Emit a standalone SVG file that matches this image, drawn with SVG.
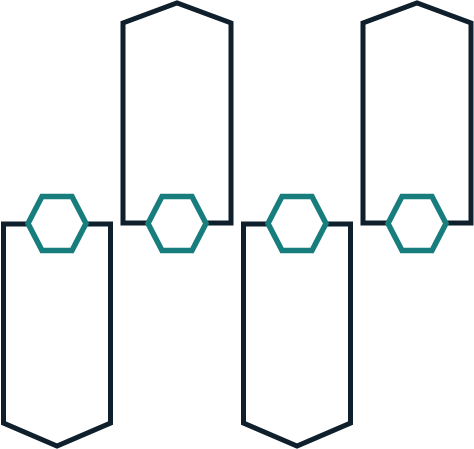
<svg xmlns="http://www.w3.org/2000/svg" width="474" height="449" viewBox="0 0 474 449">
<style>
.frame{fill:none;stroke:#0f202c;stroke-width:5;stroke-linejoin:miter}
.hex{fill:#fff;stroke:#177d7d;stroke-width:5.5}
</style>
<rect width="474" height="449" fill="#fff"/>
<g id="connectors"></g>
<g id="node1"><path class="frame" d="M28 224 H3.5 V423 L57 446 L110.5 423 V224 H86"/><polygon class="hex" points="28,223.5 42,196.5 72,196.5 86,223.5 72,250.5 42,250.5"/></g>
<g id="node2"><path class="frame" d="M148 223 H123 V23 L177 3 L231 23 V223 H206"/><polygon class="hex" points="148,223.5 162,196.5 192,196.5 206,223.5 192,250.5 162,250.5"/></g>
<g id="node3"><path class="frame" d="M268 224 H243.5 V423 L297 446 L350.5 423 V224 H326"/><polygon class="hex" points="268,223.5 282,196.5 312,196.5 326,223.5 312,250.5 282,250.5"/></g>
<g id="node4"><path class="frame" d="M388 223 H363 V23 L417 3 L471 23 V223 H446"/><polygon class="hex" points="388,223.5 402,196.5 432,196.5 446,223.5 432,250.5 402,250.5"/></g>
</svg>
